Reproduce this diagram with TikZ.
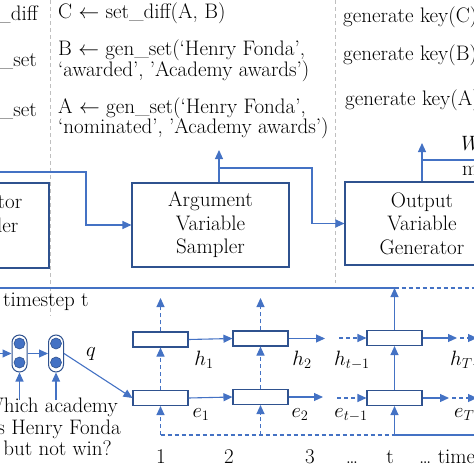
\documentclass[tikz,border=0pt]{standalone}
\usetikzlibrary{arrows.meta}
\definecolor{lblue}{HTML}{4472C4}
\definecolor{dblue}{HTML}{2F528F}
\definecolor{gdash}{HTML}{BFBFBF}
\begin{document}
\begin{tikzpicture}[x=1pt,y=-1pt,
  every node/.style={font=\fontsize{21}{23.5}\selectfont},
  txt/.style={inner sep=0pt},
  ln/.style={draw=lblue, line width=1.1pt},
  arr/.style={ln, -{Triangle[length=9pt,width=8pt]}},
  dsh/.style={dash pattern=on 4pt off 3pt},
  gline/.style={draw=gdash, line width=0.9pt, dash pattern=on 4pt off 3pt},
  bigbox/.style={draw=dblue, line width=1.1pt, align=center, inner sep=0pt},
  cell/.style={draw=dblue, line width=1.1pt, minimum width=55pt, minimum height=15pt, inner sep=0pt},
  capsule/.style={draw=dblue, line width=1pt, rounded corners=7.5pt, minimum width=15pt, minimum height=37pt, inner sep=0pt},
  dot/.style={circle, fill=lblue, draw=dblue, line width=0.6pt, minimum size=11pt, inner sep=0pt},
  lab/.style={inner sep=0pt, font=\fontsize{21}{24}\selectfont}
]
\useasboundingbox (0,0) rectangle (474,474);
\clip (0,0) rectangle (474,474);

% gray separators
\coordinate (g1t) at (50,0); \coordinate (g1b) at (50,316);
\coordinate (g2t) at (335,0); \coordinate (g2b) at (335,283);
\draw[gline] (g1t) -- (g1b);
\draw[gline] (g2t) -- (g2b);

% code texts
\node[txt, anchor=base east] (l1) at (38,20) {set\_diff};
\node[txt, anchor=base east] (l2) at (37,66) {gen\_set};
\node[txt, anchor=base east] (l3) at (37,116) {gen\_set};
\node[txt, anchor=base west] (m1) at (58,18) {C $\leftarrow$ set\_diff(A, B)};
\node[txt, anchor=base west] (m2) at (58,55) {B $\leftarrow$ gen\_set(`Henry Fonda',};
\node[txt, anchor=base west] (m3) at (58,76) {`awarded', 'Academy awards')};
\node[txt, anchor=base west] (m4) at (58,113) {A $\leftarrow$ gen\_set(`Henry Fonda',};
\node[txt, anchor=base west] (m5) at (58,133) {`nominated', 'Academy awards')};
\node[txt, anchor=base west] (r1) at (343,22) {generate key(C)};
\node[txt, anchor=base west] (r2) at (343,60) {generate key(B)};
\node[txt, anchor=base west] (r3) at (345,105) {generate key(A)};

% module boxes
\node[bigbox, minimum width=124pt, minimum height=85pt] (ops) at (-13,225.5) {};
\node[txt, anchor=base] (opst1) at (-16,208) {Operator};
\node[txt, anchor=base] (opst2) at (-16,232) {Sampler};
\node[bigbox, minimum width=157pt, minimum height=84pt] (arg) at (210.5,225) {Argument\\Variable\\Sampler};
\node[bigbox, minimum width=154pt, minimum height=83pt] (out) at (422,223.5) {Output\\Variable\\Generator};

% module connectors
\coordinate (opout) at (-20,172);
\draw[arr] (opout) -- (86,172) |- (arg.west);
\path (arg.north) ++(8.5,0) coordinate (argtop);
\coordinate (argtip) at (219,150);
\coordinate (argj) at (219,168);
\draw[arr] (argtop) -- (argtip);
\draw[arr] (argj) -- (312,168) |- (out.west);
\coordinate (outtip) at (422,143);
\coordinate (outj) at (422,160);
\coordinate (outr) at (480,160);
\draw[arr] (out.north) -- (outtip);
\draw[ln] (outj) -- (outr);
\node[txt, anchor=base west] (wlab) at (461,150) {$W$};
\node[txt, anchor=base west] (mlab) at (462,175) {m};

% timestep line
\coordinate (tl0) at (-5,288); \coordinate (tlj) at (394.5,288); \coordinate (tlend) at (480,288);
\draw[ln] (tl0) -- (tlj);
\draw[ln, dsh] (tlj) -- (tlend);
\node[txt, anchor=base west] (ts) at (3,306) {timestep t};

% encoder capsules
\node[capsule] (c1) at (19.5,353.5) {};
\node[capsule] (c2) at (56,353.5) {};
\node[dot] (c1a) at (19.5,343.5) {};
\node[dot] (c1b) at (19.5,362.5) {};
\node[dot] (c2a) at (56,343.5) {};
\node[dot] (c2b) at (56,362.5) {};
\coordinate (in0) at (-5,353.5);
\draw[arr] (in0) -- (c1.west);
\draw[arr] (c1.east) -- (c2.west);
\coordinate (w1) at (19.5,400); \coordinate (w2) at (56,400);
\draw[arr] (w1) -- (c1.south);
\draw[arr] (w2) -- (c2.south);
\node[lab] (q) at (91,354) {$q$};
\node[txt, anchor=base east] (qt1) at (118,412) {Which academy};
\node[txt, anchor=base east] (qt2) at (121,434) {was Henry Fonda};
\node[txt, anchor=base east] (qt3) at (112,455) {for but not win?};

% LSTM cells
\node[cell] (h1) at (160.5,339.5) {};
\node[cell] (e1) at (160.5,398) {};
\node[cell] (h2) at (260.5,338.5) {};
\node[cell] (e2) at (260.5,397) {};
\node[cell] (ht) at (394.5,338) {};
\node[cell] (et) at (394.5,398) {};
\draw[arr] (c2.east) -- (e1.west);

% verticals
\coordinate (h1top) at (160.5,298); \coordinate (b1) at (160.5,435);
\coordinate (h2top) at (260.5,298); \coordinate (b2) at (260.5,435);
\coordinate (bt) at (394.5,435); \coordinate (bend) at (480,435);
\draw[arr, dsh] (e1.north) -- (h1.south);
\draw[arr, dsh] (h1.north) -- (h1top);
\draw[arr, dsh] (b1) -- (e1.south);
\draw[arr, dsh] (e2.north) -- (h2.south);
\draw[arr, dsh] (h2.north) -- (h2top);
\draw[arr, dsh] (b2) -- (e2.south);
\draw[arr] (bt) -- (et.south);
\draw[arr] (et.north) -- (ht.south);
\draw[arr] (ht.north) -- (tlj);
\draw[ln, dsh] (b1) -- (bt);
\draw[ln] (bt) -- (bend);

% horizontals
\draw[arr] (h1.east) -- (h2.west);
\draw[arr] (e1.east) -- (e2.west);
\coordinate (h2o) at (325,338.5); \coordinate (hti) at (339,338);
\coordinate (e2o) at (323,397); \coordinate (eti) at (337,398);
\draw[arr] (h2.east) -- (h2o);
\draw[arr, dsh] (hti) -- (ht.west);
\draw[arr] (e2.east) -- (e2o);
\draw[arr, dsh] (eti) -- (et.west);
\coordinate (hto) at (457,338); \coordinate (htd) at (460,338); \coordinate (htd2) at (477,338);
\coordinate (eto) at (449,398); \coordinate (etd) at (452,398); \coordinate (etd2) at (477,398);
\draw[arr] (ht.east) -- (hto);
\draw[arr, dsh] (htd) -- (htd2);
\draw[arr] (et.east) -- (eto);
\draw[arr, dsh] (etd) -- (etd2);

% labels
\node[lab, anchor=base] (lh1) at (204,365) {$h_1$};
\node[lab, anchor=base] (le1) at (201,417) {$e_1$};
\node[lab, anchor=base] (lh2) at (302,365) {$h_2$};
\node[lab, anchor=base] (le2) at (300,417) {$e_2$};
\node[lab, anchor=base] (lht) at (352,365) {$h_{t-1}$};
\node[lab, anchor=base] (let) at (351,417) {$e_{t-1}$};
\node[lab, anchor=base west] (lhT) at (450,365) {$h_{T-1}$};
\node[lab, anchor=base west] (leT) at (454,417) {$e_{T-1}$};

% step numbers
\node[lab, anchor=base] (n1) at (161,463) {1};
\node[lab, anchor=base] (n2) at (229,463) {2};
\node[lab, anchor=base] (n3) at (310,463) {3};
\node[lab, anchor=base] (nd) at (352,463) {\ldots};
\node[lab, anchor=base] (nt) at (390,463) {t};
\node[lab, anchor=base west] (nT) at (419,463) {\ldots{} timestep T};
\end{tikzpicture}
\end{document}
